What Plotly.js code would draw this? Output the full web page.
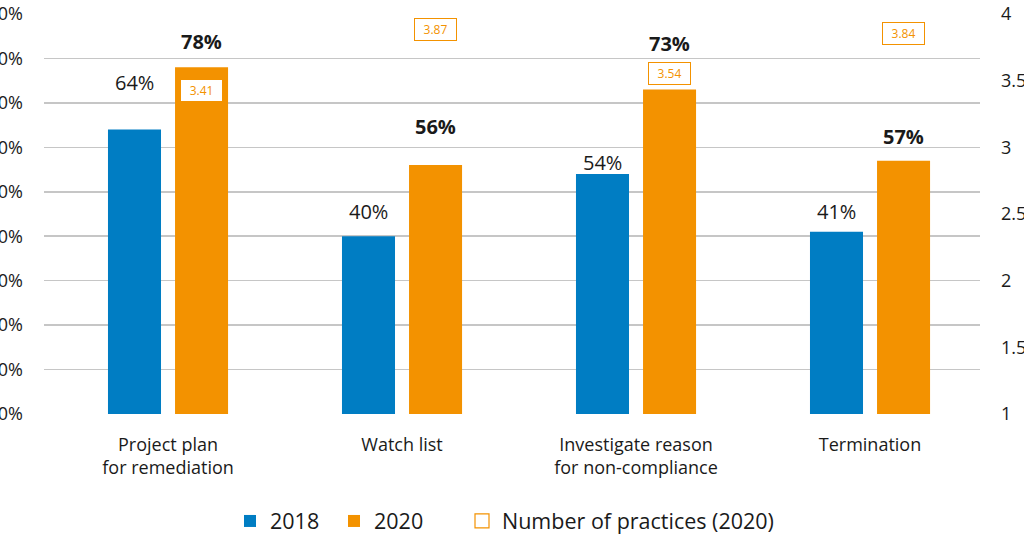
<!DOCTYPE html>
<html>
<head>
<meta charset="utf-8">
<script src="https://cdn.plot.ly/plotly-3.0.1.min.js"></script>
<style>
  html, body { margin: 0; padding: 0; background: #fff; }
  #chart { width: 1024px; height: 536px; }
</style>
</head>
<body>
<div id="chart"></div>
<script>
  // Remediation actions: share of practices, 2018 vs 2020, plus the 2020
  // "number of practices" score read against the right-hand axis.
  const categories = [
    "Project plan<br>for remediation",
    "Watch list",
    "Investigate reason<br>for non-compliance",
    "Termination",
  ];
  const share2018 = [64, 40, 54, 41];
  const share2020 = [78, 56, 73, 57];
  const practices2020 = [3.41, 3.87, 3.54, 3.84];

  // Layout only: how far each value label sits above its bar (px).
  const LIFT_2018 = [47, 25, 12, 20];
  const LIFT_2020 = [26, 39, 46, 24];

  const BLUE = "#007dc3";
  const ORANGE = "#f39200";
  const INK = "#1a1a1a";
  const GRID = "#c6c6c6";
  const FONT = "'Open Sans', Lato, sans-serif";
  const BAR_SHIFT = 33.5; // half the distance between the two bars of a group

  const idx = categories.map((_, i) => i);

  const traces = [
    {
      type: "bar",
      name: "2018",
      x: idx,
      y: share2018,
      marker: { color: BLUE },
      legend: "legend",
      hoverinfo: "skip",
    },
    {
      type: "bar",
      name: "2020",
      x: idx,
      y: share2020,
      marker: { color: ORANGE },
      legend: "legend2",
      hoverinfo: "skip",
    },
    {
      // legend entry only; the boxes themselves are annotations below
      type: "scatter",
      mode: "markers",
      name: "Number of practices (2020)",
      x: [null],
      y: [null],
      yaxis: "y2",
      legend: "legend3",
      marker: { symbol: "square-open", color: ORANGE, size: 14, line: { width: 1.2 } },
      hoverinfo: "skip",
    },
  ];

  const annotations = [];
  idx.forEach(function (i) {
    annotations.push({
      x: i, y: share2018[i], xref: "x", yref: "y",
      xshift: -BAR_SHIFT, yshift: LIFT_2018[i],
      text: share2018[i] + "%", showarrow: false,
      font: { family: FONT, size: 20, color: INK },
    });
    annotations.push({
      x: i, y: share2020[i], xref: "x", yref: "y",
      xshift: BAR_SHIFT, yshift: LIFT_2020[i],
      text: "<b>" + share2020[i] + "%</b>", showarrow: false,
      font: { family: FONT, size: 20, color: INK },
    });
    annotations.push({
      x: i, y: practices2020[i], xref: "x", yref: "y2",
      xshift: BAR_SHIFT, yshift: 2,
      text: practices2020[i].toFixed(2), showarrow: false,
      font: { family: FONT, size: 12, color: ORANGE },
      bgcolor: "#ffffff", bordercolor: ORANGE, borderwidth: 1, borderpad: 2,
      width: 37,
    });
  });

  // One legend per entry so the uneven spacing of the original can be kept.
  function legendAt(left) {
    return {
      orientation: "h",
      xref: "container", yref: "container",
      x: left / 1024, xanchor: "left",
      y: 0.028, yanchor: "middle",
      font: { family: FONT, size: 21.5, color: INK },
      itemclick: false,
    };
  }

  const layout = {
    width: 1024,
    height: 536,
    paper_bgcolor: "#ffffff",
    plot_bgcolor: "#ffffff",
    font: { family: FONT, size: 18, color: INK },
    margin: { l: 44, r: 44, t: 14, b: 122 },
    barmode: "group",
    bargap: 0.427,
    bargroupgap: 0.209,
    showlegend: true,
    legend: legendAt(230),
    legend2: legendAt(334),
    legend3: legendAt(462),
    xaxis: {
      type: "linear",
      range: [-0.53, 3.47],
      tickmode: "array",
      tickvals: idx,
      ticktext: categories,
      showgrid: false,
      zeroline: false,
      ticks: "",
      ticklabelstandoff: 18,
      tickfont: { family: FONT, size: 18, color: INK },
    },
    yaxis: {
      range: [0, 90],
      dtick: 10,
      ticksuffix: "%",
      gridcolor: GRID,
      gridwidth: 1.5,
      zeroline: false,
      ticks: "",
      ticklabelstandoff: 20,
      tickfont: { family: FONT, size: 18, color: INK },
    },
    yaxis2: {
      overlaying: "y",
      side: "right",
      range: [1, 4],
      dtick: 0.5,
      showgrid: false,
      zeroline: false,
      ticks: "",
      ticklabelstandoff: 20,
      tickfont: { family: FONT, size: 18, color: INK },
    },
    annotations: annotations,
  };

  Plotly.newPlot("chart", traces, layout, { displayModeBar: false, staticPlot: true });
</script>
</body>
</html>
